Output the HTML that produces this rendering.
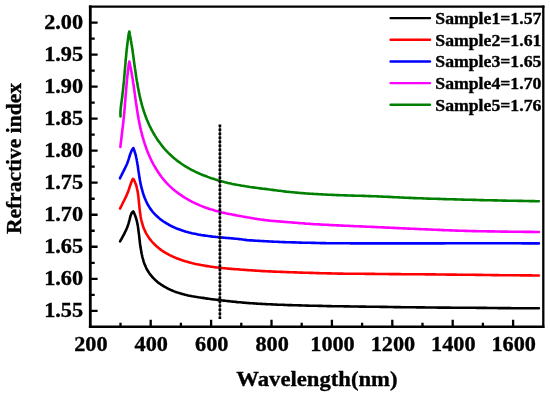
<!DOCTYPE html>
<html><head><meta charset="utf-8"><style>
html,body{margin:0;padding:0;background:#fff;}
body{width:550px;height:398px;overflow:hidden;}
svg{display:block;filter:blur(0.4px);}
text{font-family:'Liberation Serif','Times New Roman',serif;font-weight:bold;fill:#000;stroke:#000;stroke-width:0.35px;}
.t{font-size:20.8px;}
.xt{font-size:22px;}
.yt{font-size:21.5px;}
.l{font-size:16.5px;}
</style></head><body>
<svg width="550" height="398" viewBox="0 0 550 398">
<path d="M120.1,241.3L120.8,240.0L121.6,238.7L122.3,237.4L123.0,236.0L123.8,234.7L124.5,233.4L125.1,232.0L125.8,230.7L126.4,229.3L127.0,227.9L127.5,226.5L128.0,225.1L128.5,223.6L128.9,222.2L129.3,220.7L129.7,219.3L130.0,217.8L130.4,216.3L130.9,214.9L131.5,213.5L132.3,212.2L133.2,211.4L133.9,212.7L134.5,214.1L135.1,215.5L135.6,216.9L136.1,218.3L136.5,219.8L136.9,221.2L137.2,222.7L137.5,224.2L137.8,225.7L138.0,227.2L138.2,228.6L138.4,230.1L138.6,231.6L138.8,233.1L139.0,234.6L139.2,236.1L139.3,237.6L139.5,239.1L139.7,240.6L139.8,242.1L140.0,243.6L140.2,245.1L140.4,246.6L140.7,248.1L140.9,249.6L141.2,251.1L141.4,252.6L141.7,254.0L142.1,255.5L142.4,257.0L142.8,258.5L143.2,259.9L143.6,261.3L144.1,262.8L144.6,264.2L145.2,265.6L145.8,267.0L146.4,268.3L147.1,269.7L147.9,271.0L148.7,272.3L149.5,273.5L150.4,274.7L151.4,275.9L152.3,277.0L153.4,278.2L154.4,279.2L155.5,280.3L156.7,281.2L157.8,282.2L159.0,283.1L160.3,284.0L161.5,284.9L162.8,285.7L164.0,286.5L165.4,287.2L166.7,288.0L168.0,288.6L169.4,289.3L170.7,289.9L172.1,290.5L173.5,291.1L174.9,291.6L176.4,292.2L177.8,292.6L179.2,293.1L180.7,293.5L182.1,293.9L183.6,294.3L185.0,294.7L186.5,295.0L188.0,295.4L189.5,295.7L190.9,296.0L192.4,296.3L193.9,296.5L195.4,296.8L196.9,297.0L198.4,297.3L199.9,297.5L201.4,297.7L202.8,297.9L204.3,298.1L205.8,298.4L207.3,298.6L208.8,298.8L210.3,299.0L211.8,299.2L213.3,299.4L214.8,299.5L216.3,299.7L217.8,299.9L219.3,300.1L220.8,300.3L222.3,300.5L223.8,300.6L225.3,300.8L226.8,301.0L228.3,301.1L229.8,301.3L231.3,301.5L232.8,301.6L234.3,301.8L235.8,301.9L237.3,302.1L238.8,302.2L240.3,302.3L241.8,302.5L243.3,302.6L244.8,302.8L246.3,302.9L247.8,303.0L249.3,303.1L250.8,303.2L252.3,303.3L253.8,303.4L255.3,303.5L256.8,303.6L258.3,303.7L259.9,303.8L261.4,303.9L262.9,304.0L264.4,304.0L265.9,304.1L267.4,304.2L268.9,304.3L270.4,304.3L271.9,304.4L273.4,304.5L274.9,304.5L276.4,304.6L277.9,304.7L279.4,304.7L281.0,304.8L282.5,304.8L284.0,304.9L285.5,305.0L287.0,305.0L288.5,305.1L290.0,305.1L291.5,305.1L293.0,305.2L294.5,305.2L296.0,305.3L297.5,305.3L299.0,305.4L300.6,305.4L302.1,305.5L303.6,305.5L305.1,305.5L306.6,305.6L308.1,305.6L309.6,305.7L311.1,305.7L312.6,305.7L314.1,305.8L315.6,305.8L317.1,305.8L318.7,305.9L320.2,305.9L321.7,305.9L323.2,306.0L324.7,306.0L326.2,306.0L327.7,306.1L329.2,306.1L330.7,306.1L332.2,306.2L333.7,306.2L335.2,306.2L336.8,306.2L338.3,306.3L339.8,306.3L341.3,306.3L342.8,306.3L344.3,306.4L345.8,306.4L347.3,306.4L348.8,306.4L350.3,306.5L351.8,306.5L353.3,306.5L354.9,306.5L356.4,306.5L357.9,306.5L359.4,306.6L360.9,306.6L362.4,306.6L363.9,306.6L365.4,306.6L366.9,306.7L368.4,306.7L369.9,306.7L371.4,306.7L373.0,306.7L374.5,306.8L376.0,306.8L377.5,306.8L379.0,306.8L380.5,306.9L382.0,306.9L383.5,306.9L385.0,306.9L386.5,306.9L388.0,307.0L389.6,307.0L391.1,307.0L392.6,307.0L394.1,307.1L395.6,307.1L397.1,307.1L398.6,307.1L400.1,307.1L401.6,307.2L403.1,307.2L404.6,307.2L406.1,307.2L407.7,307.3L409.2,307.3L410.7,307.3L412.2,307.3L413.7,307.3L415.2,307.3L416.7,307.4L418.2,307.4L419.7,307.4L421.2,307.4L422.7,307.4L424.2,307.4L425.8,307.5L427.3,307.5L428.8,307.5L430.3,307.5L431.8,307.5L433.3,307.5L434.8,307.5L436.3,307.5L437.8,307.6L439.3,307.6L440.8,307.6L442.3,307.6L443.9,307.6L445.4,307.6L446.9,307.6L448.4,307.6L449.9,307.6L451.4,307.7L452.9,307.7L454.4,307.7L455.9,307.7L457.4,307.7L458.9,307.7L460.5,307.7L462.0,307.7L463.5,307.7L465.0,307.8L466.5,307.8L468.0,307.8L469.5,307.8L471.0,307.8L472.5,307.8L474.0,307.8L475.5,307.8L477.0,307.9L478.6,307.9L480.1,307.9L481.6,307.9L483.1,307.9L484.6,307.9L486.1,307.9L487.6,308.0L489.1,308.0L490.6,308.0L492.1,308.0L493.6,308.0L495.2,308.0L496.7,308.0L498.2,308.1L499.7,308.1L501.2,308.1L502.7,308.1L504.2,308.1L505.7,308.1L507.2,308.1L508.7,308.1L510.2,308.1L511.7,308.2L513.3,308.2L514.8,308.2L516.3,308.2L517.8,308.2L519.3,308.2L520.8,308.2L522.3,308.2L523.8,308.2L525.3,308.2L526.8,308.2L528.3,308.3L529.8,308.3L531.4,308.3L532.9,308.3L534.4,308.3L535.9,308.3L537.4,308.3L538.9,308.3" fill="none" stroke="#000000" stroke-width="2.6" stroke-linejoin="round" stroke-linecap="round"/>
<path d="M120.1,208.6L120.7,207.2L121.4,205.9L122.1,204.5L122.7,203.2L123.4,201.8L124.1,200.5L124.8,199.1L125.4,197.8L126.1,196.4L126.7,195.0L127.3,193.6L127.9,192.3L128.4,190.8L128.9,189.4L129.4,188.0L129.8,186.5L130.3,185.1L130.8,183.7L131.3,182.3L131.9,180.9L132.5,179.5L133.3,178.8L134.0,180.1L134.7,181.5L135.3,182.9L135.8,184.3L136.3,185.7L136.7,187.2L137.0,188.6L137.4,190.1L137.6,191.6L137.9,193.1L138.1,194.6L138.3,196.1L138.5,197.6L138.6,199.1L138.8,200.6L138.9,202.1L139.1,203.6L139.2,205.1L139.4,206.6L139.5,208.1L139.7,209.6L139.9,211.1L140.0,212.6L140.3,214.1L140.5,215.6L140.7,217.0L141.0,218.5L141.3,220.0L141.7,221.5L142.1,222.9L142.5,224.4L142.9,225.8L143.4,227.2L144.0,228.7L144.6,230.0L145.2,231.4L145.9,232.8L146.6,234.1L147.4,235.4L148.2,236.6L149.0,237.9L149.9,239.1L150.9,240.3L151.8,241.5L152.8,242.6L153.9,243.7L154.9,244.8L156.0,245.8L157.1,246.8L158.3,247.8L159.5,248.7L160.7,249.6L161.9,250.5L163.2,251.3L164.4,252.1L165.7,252.9L167.0,253.7L168.4,254.4L169.7,255.1L171.1,255.8L172.4,256.4L173.8,257.0L175.2,257.6L176.6,258.2L178.0,258.8L179.4,259.3L180.8,259.8L182.2,260.3L183.7,260.7L185.1,261.2L186.6,261.6L188.0,262.0L189.5,262.4L190.9,262.8L192.4,263.2L193.9,263.5L195.3,263.9L196.8,264.2L198.3,264.5L199.8,264.8L201.3,265.1L202.7,265.3L204.2,265.6L205.7,265.9L207.2,266.1L208.7,266.3L210.2,266.6L211.7,266.8L213.2,267.0L214.7,267.2L216.2,267.4L217.7,267.5L219.2,267.7L220.7,267.9L222.2,268.0L223.7,268.2L225.2,268.3L226.7,268.5L228.2,268.6L229.7,268.8L231.2,268.9L232.7,269.0L234.2,269.1L235.7,269.2L237.2,269.3L238.7,269.4L240.2,269.5L241.7,269.7L243.2,269.8L244.7,269.9L246.2,270.0L247.7,270.1L249.2,270.2L250.8,270.3L252.3,270.4L253.8,270.5L255.3,270.6L256.8,270.7L258.3,270.8L259.8,270.9L261.3,271.0L262.8,271.1L264.3,271.1L265.8,271.2L267.3,271.3L268.8,271.4L270.3,271.4L271.8,271.5L273.3,271.6L274.9,271.6L276.4,271.7L277.9,271.8L279.4,271.8L280.9,271.9L282.4,271.9L283.9,272.0L285.4,272.0L286.9,272.1L288.4,272.1L289.9,272.2L291.4,272.2L293.0,272.3L294.5,272.4L296.0,272.4L297.5,272.5L299.0,272.5L300.5,272.6L302.0,272.6L303.5,272.7L305.0,272.7L306.5,272.8L308.0,272.8L309.5,272.9L311.1,272.9L312.6,272.9L314.1,273.0L315.6,273.0L317.1,273.1L318.6,273.1L320.1,273.2L321.6,273.2L323.1,273.3L324.6,273.3L326.1,273.3L327.6,273.4L329.2,273.4L330.7,273.4L332.2,273.5L333.7,273.5L335.2,273.5L336.7,273.5L338.2,273.6L339.7,273.6L341.2,273.6L342.7,273.6L344.2,273.7L345.7,273.7L347.3,273.7L348.8,273.7L350.3,273.7L351.8,273.7L353.3,273.8L354.8,273.8L356.3,273.8L357.8,273.8L359.3,273.8L360.8,273.8L362.3,273.8L363.9,273.8L365.4,273.9L366.9,273.9L368.4,273.9L369.9,273.9L371.4,273.9L372.9,273.9L374.4,273.9L375.9,274.0L377.4,274.0L378.9,274.0L380.5,274.0L382.0,274.0L383.5,274.0L385.0,274.0L386.5,274.0L388.0,274.0L389.5,274.1L391.0,274.1L392.5,274.1L394.0,274.1L395.5,274.1L397.1,274.1L398.6,274.1L400.1,274.1L401.6,274.2L403.1,274.2L404.6,274.2L406.1,274.2L407.6,274.2L409.1,274.2L410.6,274.2L412.1,274.2L413.7,274.2L415.2,274.3L416.7,274.3L418.2,274.3L419.7,274.3L421.2,274.3L422.7,274.3L424.2,274.3L425.7,274.4L427.2,274.4L428.7,274.4L430.3,274.4L431.8,274.4L433.3,274.4L434.8,274.4L436.3,274.5L437.8,274.5L439.3,274.5L440.8,274.5L442.3,274.5L443.8,274.5L445.3,274.5L446.9,274.6L448.4,274.6L449.9,274.6L451.4,274.6L452.9,274.6L454.4,274.6L455.9,274.6L457.4,274.7L458.9,274.7L460.4,274.7L461.9,274.7L463.5,274.7L465.0,274.7L466.5,274.8L468.0,274.8L469.5,274.8L471.0,274.8L472.5,274.8L474.0,274.8L475.5,274.9L477.0,274.9L478.5,274.9L480.0,274.9L481.6,274.9L483.1,275.0L484.6,275.0L486.1,275.0L487.6,275.0L489.1,275.0L490.6,275.0L492.1,275.1L493.6,275.1L495.1,275.1L496.6,275.1L498.2,275.1L499.7,275.2L501.2,275.2L502.7,275.2L504.2,275.2L505.7,275.2L507.2,275.2L508.7,275.2L510.2,275.3L511.7,275.3L513.2,275.3L514.8,275.3L516.3,275.3L517.8,275.3L519.3,275.3L520.8,275.4L522.3,275.4L523.8,275.4L525.3,275.4L526.8,275.4L528.3,275.4L529.8,275.4L531.4,275.4L532.9,275.5L534.4,275.5L535.9,275.5L537.4,275.5L538.9,275.5" fill="none" stroke="#ff0000" stroke-width="2.6" stroke-linejoin="round" stroke-linecap="round"/>
<path d="M120.0,178.3L120.6,176.9L121.3,175.6L122.0,174.2L122.6,172.9L123.3,171.6L124.0,170.2L124.7,168.9L125.3,167.5L126.0,166.1L126.6,164.8L127.2,163.4L127.7,162.0L128.2,160.6L128.7,159.1L129.1,157.7L129.6,156.3L130.0,154.8L130.5,153.4L131.1,152.0L131.7,150.6L132.4,149.3L133.3,148.1L133.8,149.3L134.4,150.7L134.8,152.2L135.3,153.6L135.7,155.1L136.0,156.5L136.3,158.0L136.7,159.5L136.9,160.9L137.2,162.4L137.4,163.9L137.7,165.4L137.9,166.9L138.1,168.4L138.3,169.9L138.5,171.3L138.8,172.8L139.0,174.3L139.2,175.8L139.4,177.3L139.7,178.8L139.9,180.3L140.2,181.7L140.5,183.2L140.8,184.7L141.1,186.2L141.5,187.6L141.9,189.1L142.3,190.5L142.7,192.0L143.1,193.4L143.6,194.9L144.1,196.3L144.6,197.7L145.2,199.1L145.8,200.5L146.4,201.8L147.0,203.2L147.7,204.5L148.5,205.8L149.3,207.1L150.1,208.4L151.0,209.6L151.9,210.8L152.8,212.0L153.8,213.1L154.8,214.2L155.9,215.3L157.0,216.3L158.1,217.3L159.2,218.3L160.4,219.2L161.6,220.1L162.8,221.0L164.1,221.9L165.4,222.7L166.6,223.5L167.9,224.2L169.3,225.0L170.6,225.7L171.9,226.3L173.3,227.0L174.7,227.6L176.0,228.2L177.4,228.8L178.8,229.3L180.2,229.8L181.7,230.3L183.1,230.8L184.5,231.2L186.0,231.7L187.4,232.1L188.9,232.5L190.3,232.8L191.8,233.2L193.3,233.5L194.7,233.8L196.2,234.1L197.7,234.4L199.2,234.7L200.7,234.9L202.1,235.2L203.6,235.4L205.1,235.6L206.6,235.8L208.1,236.0L209.6,236.2L211.1,236.4L212.6,236.6L214.1,236.7L215.6,236.9L217.1,237.0L218.6,237.2L220.1,237.3L221.6,237.5L223.1,237.6L224.6,237.7L226.1,237.9L227.6,238.0L229.1,238.1L230.6,238.3L232.1,238.4L233.6,238.5L235.1,238.7L236.6,238.8L238.1,239.0L239.6,239.1L241.0,239.3L242.5,239.5L244.0,239.7L245.5,239.9L247.0,240.1L248.5,240.2L250.0,240.4L251.5,240.4L253.0,240.5L254.5,240.6L256.0,240.7L257.5,240.8L259.0,240.9L260.5,241.0L262.0,241.0L263.5,241.1L265.0,241.2L266.5,241.3L268.0,241.4L269.5,241.5L271.0,241.5L272.6,241.6L274.1,241.7L275.6,241.8L277.1,241.8L278.6,241.9L280.1,242.0L281.6,242.0L283.1,242.1L284.6,242.1L286.1,242.2L287.6,242.2L289.1,242.3L290.6,242.3L292.1,242.4L293.6,242.4L295.1,242.4L296.6,242.5L298.1,242.5L299.6,242.6L301.1,242.6L302.6,242.7L304.1,242.7L305.6,242.7L307.1,242.8L308.6,242.8L310.2,242.8L311.7,242.9L313.2,242.9L314.7,242.9L316.2,243.0L317.7,243.0L319.2,243.0L320.7,243.1L322.2,243.1L323.7,243.1L325.2,243.1L326.7,243.2L328.2,243.2L329.7,243.2L331.2,243.2L332.7,243.2L334.2,243.3L335.7,243.3L337.2,243.3L338.7,243.3L340.2,243.3L341.8,243.3L343.3,243.3L344.8,243.3L346.3,243.3L347.8,243.3L349.3,243.3L350.8,243.4L352.3,243.4L353.8,243.4L355.3,243.4L356.8,243.4L358.3,243.4L359.8,243.4L361.3,243.4L362.8,243.4L364.3,243.4L365.8,243.4L367.3,243.4L368.8,243.4L370.3,243.4L371.9,243.4L373.4,243.4L374.9,243.4L376.4,243.4L377.9,243.4L379.4,243.4L380.9,243.4L382.4,243.4L383.9,243.4L385.4,243.4L386.9,243.4L388.4,243.4L389.9,243.4L391.4,243.4L392.9,243.4L394.4,243.4L395.9,243.4L397.4,243.4L398.9,243.4L400.4,243.4L402.0,243.4L403.5,243.4L405.0,243.4L406.5,243.4L408.0,243.4L409.5,243.4L411.0,243.4L412.5,243.4L414.0,243.4L415.5,243.4L417.0,243.4L418.5,243.4L420.0,243.4L421.5,243.4L423.0,243.4L424.5,243.4L426.0,243.4L427.5,243.4L429.0,243.4L430.5,243.4L432.0,243.4L433.6,243.4L435.1,243.4L436.6,243.4L438.1,243.4L439.6,243.4L441.1,243.4L442.6,243.4L444.1,243.4L445.6,243.3L447.1,243.3L448.6,243.3L450.1,243.3L451.6,243.3L453.1,243.3L454.6,243.3L456.1,243.3L457.6,243.3L459.1,243.3L460.6,243.3L462.1,243.3L463.7,243.3L465.2,243.3L466.7,243.3L468.2,243.3L469.7,243.3L471.2,243.3L472.7,243.3L474.2,243.3L475.7,243.3L477.2,243.3L478.7,243.3L480.2,243.3L481.7,243.3L483.2,243.3L484.7,243.3L486.2,243.3L487.7,243.3L489.2,243.3L490.7,243.3L492.2,243.3L493.8,243.3L495.3,243.3L496.8,243.3L498.3,243.3L499.8,243.3L501.3,243.3L502.8,243.3L504.3,243.3L505.8,243.3L507.3,243.3L508.8,243.3L510.3,243.3L511.8,243.3L513.3,243.3L514.8,243.3L516.3,243.3L517.8,243.3L519.3,243.3L520.8,243.3L522.3,243.4L523.9,243.4L525.4,243.4L526.9,243.4L528.4,243.4L529.9,243.4L531.4,243.4L532.9,243.4L534.4,243.4L535.9,243.4L537.4,243.4L538.9,243.4" fill="none" stroke="#0000ff" stroke-width="2.6" stroke-linejoin="round" stroke-linecap="round"/>
<path d="M120.4,147.0L120.5,145.5L120.7,144.0L120.9,142.5L121.1,141.0L121.3,139.5L121.4,138.0L121.6,136.5L121.8,135.0L122.0,133.5L122.2,132.0L122.3,130.5L122.5,129.0L122.7,127.5L122.9,126.0L123.0,124.5L123.2,123.0L123.4,121.5L123.5,120.0L123.7,118.5L123.8,117.0L124.0,115.5L124.1,114.0L124.3,112.5L124.4,111.0L124.5,109.5L124.7,108.0L124.8,106.5L124.9,105.0L125.0,103.5L125.1,102.0L125.3,100.5L125.4,99.0L125.5,97.5L125.6,96.0L125.7,94.5L125.9,93.0L126.0,91.5L126.1,90.0L126.2,88.5L126.4,87.0L126.5,85.5L126.6,84.0L126.8,82.5L126.9,81.0L127.0,79.5L127.2,78.0L127.3,76.5L127.5,75.0L127.7,73.5L127.8,72.0L128.0,70.5L128.2,69.0L128.4,67.5L128.6,66.0L128.8,64.5L129.0,63.0L129.3,61.6L129.6,62.7L129.9,64.2L130.2,65.7L130.5,67.1L130.8,68.6L131.1,70.1L131.4,71.6L131.7,73.1L131.9,74.5L132.2,76.0L132.4,77.5L132.7,79.0L132.9,80.5L133.1,82.0L133.3,83.5L133.6,85.0L133.8,86.5L134.0,87.9L134.2,89.4L134.4,90.9L134.6,92.4L134.8,93.9L135.0,95.4L135.2,96.9L135.4,98.4L135.6,99.9L135.8,101.4L136.0,102.9L136.3,104.4L136.5,105.9L136.7,107.3L136.9,108.8L137.1,110.3L137.4,111.8L137.6,113.3L137.9,114.8L138.1,116.3L138.4,117.8L138.6,119.2L138.9,120.7L139.2,122.2L139.5,123.7L139.8,125.2L140.1,126.6L140.4,128.1L140.8,129.6L141.1,131.0L141.5,132.5L141.9,134.0L142.2,135.4L142.6,136.9L143.1,138.3L143.5,139.8L143.9,141.2L144.4,142.6L144.8,144.1L145.3,145.5L145.8,146.9L146.3,148.4L146.8,149.8L147.4,151.2L147.9,152.6L148.5,154.0L149.1,155.3L149.7,156.7L150.3,158.1L151.0,159.5L151.6,160.8L152.3,162.2L153.0,163.5L153.7,164.8L154.5,166.2L155.2,167.5L156.0,168.8L156.8,170.0L157.6,171.3L158.4,172.6L159.3,173.8L160.1,175.0L161.0,176.3L161.9,177.5L162.9,178.6L163.8,179.8L164.8,180.9L165.8,182.1L166.8,183.2L167.9,184.3L168.9,185.3L170.0,186.4L171.1,187.4L172.2,188.4L173.4,189.4L174.5,190.4L175.7,191.3L176.9,192.2L178.1,193.1L179.3,194.0L180.6,194.9L181.8,195.7L183.1,196.6L184.3,197.4L185.6,198.2L186.9,198.9L188.2,199.7L189.5,200.4L190.9,201.1L192.2,201.8L193.6,202.5L194.9,203.1L196.3,203.8L197.7,204.4L199.0,205.0L200.4,205.6L201.8,206.1L203.2,206.7L204.6,207.2L206.1,207.7L207.5,208.2L208.9,208.7L210.3,209.2L211.8,209.6L213.2,210.0L214.7,210.5L216.1,210.9L217.6,211.3L219.0,211.6L220.5,212.0L222.0,212.4L223.4,212.7L224.9,213.0L226.4,213.4L227.8,213.7L229.3,214.0L230.8,214.3L232.3,214.6L233.8,214.9L235.2,215.1L236.7,215.4L238.2,215.7L239.7,215.9L241.2,216.2L242.7,216.5L244.1,216.7L245.6,217.0L247.1,217.3L248.6,217.5L250.1,217.8L251.6,218.1L253.0,218.3L254.5,218.6L256.0,218.8L257.5,219.1L259.0,219.3L260.5,219.5L262.0,219.7L263.5,219.9L265.0,220.1L266.5,220.3L268.0,220.4L269.5,220.6L271.0,220.7L272.5,220.9L274.0,221.0L275.5,221.1L277.0,221.3L278.5,221.4L280.0,221.5L281.5,221.6L283.0,221.8L284.5,221.9L286.0,222.0L287.5,222.1L289.0,222.2L290.5,222.3L292.0,222.5L293.5,222.6L295.0,222.7L296.5,222.8L298.0,223.0L299.5,223.1L301.0,223.2L302.5,223.3L304.0,223.4L305.5,223.6L307.0,223.7L308.5,223.8L310.0,223.9L311.5,224.0L313.0,224.1L314.5,224.2L316.0,224.2L317.5,224.3L319.0,224.4L320.5,224.5L322.0,224.6L323.6,224.7L325.1,224.8L326.6,224.8L328.1,224.9L329.6,225.0L331.1,225.1L332.6,225.1L334.1,225.2L335.6,225.3L337.1,225.4L338.6,225.4L340.1,225.5L341.6,225.6L343.1,225.6L344.6,225.7L346.1,225.8L347.6,225.8L349.1,225.9L350.6,226.0L352.2,226.0L353.7,226.1L355.2,226.2L356.7,226.2L358.2,226.3L359.7,226.4L361.2,226.4L362.7,226.5L364.2,226.5L365.7,226.6L367.2,226.7L368.7,226.7L370.2,226.8L371.7,226.9L373.2,226.9L374.7,227.0L376.2,227.1L377.7,227.2L379.3,227.2L380.8,227.3L382.3,227.4L383.8,227.4L385.3,227.5L386.8,227.6L388.3,227.6L389.8,227.7L391.3,227.8L392.8,227.9L394.3,227.9L395.8,228.0L397.3,228.1L398.8,228.1L400.3,228.2L401.8,228.3L403.3,228.4L404.8,228.4L406.3,228.5L407.9,228.6L409.4,228.6L410.9,228.7L412.4,228.8L413.9,228.8L415.4,228.9L416.9,229.0L418.4,229.0L419.9,229.1L421.4,229.2L422.9,229.2L424.4,229.3L425.9,229.4L427.4,229.4L428.9,229.5L430.4,229.5L431.9,229.6L433.4,229.7L435.0,229.7L436.5,229.8L438.0,229.9L439.5,229.9L441.0,230.0L442.5,230.1L444.0,230.1L445.5,230.2L447.0,230.2L448.5,230.3L450.0,230.4L451.5,230.4L453.0,230.5L454.5,230.5L456.0,230.6L457.5,230.6L459.0,230.7L460.6,230.7L462.1,230.8L463.6,230.8L465.1,230.9L466.6,230.9L468.1,231.0L469.6,231.0L471.1,231.0L472.6,231.1L474.1,231.1L475.6,231.1L477.1,231.2L478.6,231.2L480.1,231.2L481.6,231.2L483.1,231.3L484.7,231.3L486.2,231.3L487.7,231.4L489.2,231.4L490.7,231.4L492.2,231.4L493.7,231.4L495.2,231.5L496.7,231.5L498.2,231.5L499.7,231.5L501.2,231.6L502.7,231.6L504.2,231.6L505.7,231.6L507.3,231.6L508.8,231.7L510.3,231.7L511.8,231.7L513.3,231.7L514.8,231.7L516.3,231.8L517.8,231.8L519.3,231.8L520.8,231.8L522.3,231.8L523.8,231.9L525.3,231.9L526.8,231.9L528.4,231.9L529.9,231.9L531.4,231.9L532.9,231.9L534.4,232.0L535.9,232.0L537.4,232.0L538.9,232.0" fill="none" stroke="#ff00ff" stroke-width="2.6" stroke-linejoin="round" stroke-linecap="round"/>
<path d="M120.5,116.5L120.5,115.0L120.4,113.5L120.5,112.0L120.5,110.5L120.7,109.0L120.8,107.5L121.0,106.0L121.2,104.5L121.4,103.0L121.6,101.5L121.8,100.0L122.0,98.5L122.2,97.0L122.4,95.5L122.5,94.0L122.7,92.5L122.9,91.0L123.0,89.5L123.2,88.0L123.4,86.5L123.5,85.0L123.7,83.5L123.8,82.0L124.0,80.5L124.1,79.0L124.2,77.5L124.4,76.0L124.5,74.5L124.6,73.0L124.8,71.5L124.9,70.0L125.0,68.5L125.1,67.0L125.3,65.5L125.4,64.0L125.5,62.5L125.6,61.0L125.8,59.5L125.9,58.0L126.1,56.5L126.2,55.0L126.3,53.5L126.5,52.0L126.6,50.5L126.8,49.0L127.0,47.5L127.1,46.0L127.3,44.5L127.5,43.0L127.7,41.5L127.9,40.0L128.1,38.5L128.3,37.0L128.5,35.5L128.7,34.1L129.0,32.6L129.3,31.5L129.6,33.0L129.8,34.5L130.1,35.9L130.4,37.4L130.7,38.9L130.9,40.4L131.2,41.9L131.4,43.4L131.7,44.9L131.9,46.3L132.1,47.8L132.3,49.3L132.6,50.8L132.8,52.3L133.0,53.8L133.2,55.3L133.4,56.8L133.6,58.3L133.8,59.8L134.0,61.3L134.2,62.8L134.4,64.3L134.6,65.7L134.8,67.2L135.0,68.7L135.3,70.2L135.5,71.7L135.7,73.2L135.9,74.7L136.1,76.2L136.3,77.7L136.6,79.2L136.8,80.7L137.1,82.1L137.3,83.6L137.6,85.1L137.8,86.6L138.1,88.1L138.4,89.6L138.7,91.0L139.0,92.5L139.3,94.0L139.6,95.5L139.9,96.9L140.3,98.4L140.6,99.9L141.0,101.3L141.4,102.8L141.7,104.2L142.1,105.7L142.6,107.2L143.0,108.6L143.4,110.0L143.9,111.5L144.4,112.9L144.9,114.3L145.4,115.7L145.9,117.2L146.4,118.6L147.0,120.0L147.6,121.3L148.2,122.7L148.8,124.1L149.4,125.5L150.1,126.8L150.8,128.2L151.4,129.5L152.2,130.9L152.9,132.2L153.6,133.5L154.4,134.8L155.2,136.1L156.0,137.4L156.8,138.6L157.6,139.9L158.5,141.1L159.4,142.3L160.3,143.5L161.2,144.7L162.1,145.9L163.1,147.1L164.0,148.2L165.0,149.4L166.0,150.5L167.1,151.6L168.1,152.7L169.2,153.8L170.3,154.8L171.4,155.8L172.5,156.8L173.6,157.8L174.8,158.8L176.0,159.7L177.1,160.6L178.4,161.6L179.6,162.4L180.8,163.3L182.1,164.2L183.3,165.0L184.6,165.8L185.9,166.6L187.2,167.3L188.5,168.1L189.8,168.8L191.1,169.6L192.4,170.3L193.8,170.9L195.1,171.6L196.5,172.3L197.9,172.9L199.2,173.5L200.6,174.1L202.0,174.7L203.4,175.3L204.8,175.8L206.2,176.3L207.6,176.9L209.0,177.4L210.5,177.9L211.9,178.4L213.3,178.8L214.8,179.3L216.2,179.7L217.6,180.2L219.1,180.6L220.5,181.0L222.0,181.4L223.5,181.8L224.9,182.2L226.4,182.5L227.8,182.9L229.3,183.2L230.8,183.5L232.3,183.9L233.7,184.2L235.2,184.5L236.7,184.8L238.2,185.0L239.7,185.3L241.1,185.6L242.6,185.8L244.1,186.0L245.6,186.3L247.1,186.5L248.6,186.7L250.1,187.0L251.6,187.2L253.1,187.4L254.5,187.6L256.0,187.8L257.5,188.0L259.0,188.2L260.5,188.4L262.0,188.6L263.5,188.7L265.0,188.9L266.5,189.1L268.0,189.3L269.5,189.5L271.0,189.7L272.5,189.9L274.0,190.1L275.5,190.3L277.0,190.5L278.5,190.7L280.0,190.8L281.5,191.0L283.0,191.2L284.4,191.4L285.9,191.6L287.4,191.7L288.9,191.9L290.4,192.0L291.9,192.2L293.4,192.3L294.9,192.5L296.4,192.6L297.9,192.7L299.4,192.9L300.9,193.0L302.4,193.1L304.0,193.2L305.5,193.4L307.0,193.5L308.5,193.6L310.0,193.7L311.5,193.8L313.0,193.9L314.5,194.0L316.0,194.0L317.5,194.1L319.0,194.2L320.5,194.3L322.0,194.4L323.5,194.5L325.0,194.5L326.5,194.6L328.0,194.7L329.5,194.8L331.0,194.8L332.5,194.9L334.0,195.0L335.5,195.0L337.1,195.1L338.6,195.1L340.1,195.2L341.6,195.3L343.1,195.3L344.6,195.4L346.1,195.4L347.6,195.5L349.1,195.5L350.6,195.5L352.1,195.6L353.6,195.6L355.1,195.7L356.6,195.7L358.1,195.7L359.6,195.8L361.2,195.8L362.7,195.9L364.2,195.9L365.7,196.0L367.2,196.0L368.7,196.1L370.2,196.1L371.7,196.2L373.2,196.2L374.7,196.3L376.2,196.3L377.7,196.4L379.2,196.5L380.7,196.5L382.2,196.6L383.7,196.7L385.3,196.7L386.8,196.8L388.3,196.9L389.8,196.9L391.3,197.0L392.8,197.1L394.3,197.2L395.8,197.2L397.3,197.3L398.8,197.4L400.3,197.5L401.8,197.5L403.3,197.6L404.8,197.7L406.3,197.7L407.8,197.8L409.3,197.9L410.8,197.9L412.3,198.0L413.9,198.1L415.4,198.1L416.9,198.2L418.4,198.2L419.9,198.3L421.4,198.3L422.9,198.4L424.4,198.5L425.9,198.5L427.4,198.6L428.9,198.6L430.4,198.7L431.9,198.7L433.4,198.8L434.9,198.8L436.4,198.8L438.0,198.9L439.5,198.9L441.0,199.0L442.5,199.0L444.0,199.1L445.5,199.1L447.0,199.2L448.5,199.2L450.0,199.3L451.5,199.3L453.0,199.3L454.5,199.4L456.0,199.4L457.5,199.5L459.0,199.5L460.6,199.5L462.1,199.6L463.6,199.6L465.1,199.7L466.6,199.7L468.1,199.7L469.6,199.8L471.1,199.8L472.6,199.9L474.1,199.9L475.6,199.9L477.1,200.0L478.6,200.0L480.1,200.1L481.6,200.1L483.1,200.1L484.7,200.2L486.2,200.2L487.7,200.2L489.2,200.3L490.7,200.3L492.2,200.3L493.7,200.4L495.2,200.4L496.7,200.4L498.2,200.5L499.7,200.5L501.2,200.5L502.7,200.6L504.2,200.6L505.7,200.6L507.3,200.7L508.8,200.7L510.3,200.7L511.8,200.8L513.3,200.8L514.8,200.8L516.3,200.8L517.8,200.9L519.3,200.9L520.8,200.9L522.3,200.9L523.8,201.0L525.3,201.0L526.8,201.0L528.4,201.0L529.9,201.1L531.4,201.1L532.9,201.1L534.4,201.1L535.9,201.2L537.4,201.2L538.9,201.2" fill="none" stroke="#008000" stroke-width="2.6" stroke-linejoin="round" stroke-linecap="round"/>
<line x1="219.9" y1="125" x2="219.9" y2="318.8" stroke="#222" stroke-width="1.3"/>
<line x1="219.9" y1="124.6" x2="219.9" y2="319.2" stroke="#000" stroke-width="2.7" stroke-dasharray="2.3 1.7"/>
<path d="M150.70,326.85V319.85 M211.10,326.85V319.85 M271.50,326.85V319.85 M331.90,326.85V319.85 M392.30,326.85V319.85 M452.70,326.85V319.85 M513.10,326.85V319.85 M120.50,326.85V322.85 M180.90,326.85V322.85 M241.30,326.85V322.85 M301.70,326.85V322.85 M362.10,326.85V322.85 M422.50,326.85V322.85 M482.90,326.85V322.85 M90.30,310.83H97.60 M90.30,278.80H97.60 M90.30,246.77H97.60 M90.30,214.74H97.60 M90.30,182.71H97.60 M90.30,150.68H97.60 M90.30,118.65H97.60 M90.30,86.62H97.60 M90.30,54.59H97.60 M90.30,22.56H97.60 M90.30,294.82H94.70 M90.30,262.79H94.70 M90.30,230.76H94.70 M90.30,198.73H94.70 M90.30,166.70H94.70 M90.30,134.67H94.70 M90.30,102.64H94.70 M90.30,70.61H94.70 M90.30,38.58H94.70" stroke="#000" stroke-width="2.3" fill="none"/>
<path d="M88.90,6.55H544.45" stroke="#000" stroke-width="2.2" fill="none"/>
<path d="M88.90,326.85H544.45" stroke="#000" stroke-width="2.5" fill="none"/>
<path d="M90.30,5.45V328.10" stroke="#000" stroke-width="2.8" fill="none"/>
<path d="M543.30,5.45V328.10" stroke="#000" stroke-width="2.3" fill="none"/>
<text transform="translate(83.10,317.33) scale(1.070,1)" text-anchor="end" class="t">1.55</text>
<text transform="translate(83.10,285.30) scale(1.070,1)" text-anchor="end" class="t">1.60</text>
<text transform="translate(83.10,253.27) scale(1.070,1)" text-anchor="end" class="t">1.65</text>
<text transform="translate(83.10,221.24) scale(1.070,1)" text-anchor="end" class="t">1.70</text>
<text transform="translate(83.10,189.21) scale(1.070,1)" text-anchor="end" class="t">1.75</text>
<text transform="translate(83.10,157.18) scale(1.070,1)" text-anchor="end" class="t">1.80</text>
<text transform="translate(83.10,125.15) scale(1.070,1)" text-anchor="end" class="t">1.85</text>
<text transform="translate(83.10,93.12) scale(1.070,1)" text-anchor="end" class="t">1.90</text>
<text transform="translate(83.10,61.09) scale(1.070,1)" text-anchor="end" class="t">1.95</text>
<text transform="translate(83.10,29.06) scale(1.070,1)" text-anchor="end" class="t">2.00</text>
<text transform="translate(90.90,350.70) scale(1.070,1)" text-anchor="middle" class="t">200</text>
<text transform="translate(151.30,350.70) scale(1.070,1)" text-anchor="middle" class="t">400</text>
<text transform="translate(211.70,350.70) scale(1.070,1)" text-anchor="middle" class="t">600</text>
<text transform="translate(272.10,350.70) scale(1.070,1)" text-anchor="middle" class="t">800</text>
<text transform="translate(332.50,350.70) scale(1.070,1)" text-anchor="middle" class="t">1000</text>
<text transform="translate(392.90,350.70) scale(1.070,1)" text-anchor="middle" class="t">1200</text>
<text transform="translate(453.30,350.70) scale(1.070,1)" text-anchor="middle" class="t">1400</text>
<text transform="translate(513.70,350.70) scale(1.070,1)" text-anchor="middle" class="t">1600</text>
<text transform="translate(316.90,386.40) scale(1.030,1)" text-anchor="middle" class="xt">Wavelength(nm)</text>
<text transform="translate(21.00,158.60) rotate(-90)" text-anchor="middle" class="yt">Refractive index</text>
<line x1="390.6" y1="18.10" x2="430.0" y2="18.10" stroke="#000000" stroke-width="2.4" stroke-linecap="round"/>
<text transform="translate(435.30,24.00) scale(1.075,1)" class="l">Sample1=1.57</text>
<line x1="390.6" y1="39.78" x2="430.0" y2="39.78" stroke="#ff0000" stroke-width="2.4" stroke-linecap="round"/>
<text transform="translate(435.30,45.68) scale(1.075,1)" class="l">Sample2=1.61</text>
<line x1="390.6" y1="61.45" x2="430.0" y2="61.45" stroke="#0000ff" stroke-width="2.4" stroke-linecap="round"/>
<text transform="translate(435.30,67.35) scale(1.075,1)" class="l">Sample3=1.65</text>
<line x1="390.6" y1="83.12" x2="430.0" y2="83.12" stroke="#ff00ff" stroke-width="2.4" stroke-linecap="round"/>
<text transform="translate(435.30,89.03) scale(1.075,1)" class="l">Sample4=1.70</text>
<line x1="390.6" y1="104.80" x2="430.0" y2="104.80" stroke="#008000" stroke-width="2.4" stroke-linecap="round"/>
<text transform="translate(435.30,110.70) scale(1.075,1)" class="l">Sample5=1.76</text>
</svg>
</body></html>
